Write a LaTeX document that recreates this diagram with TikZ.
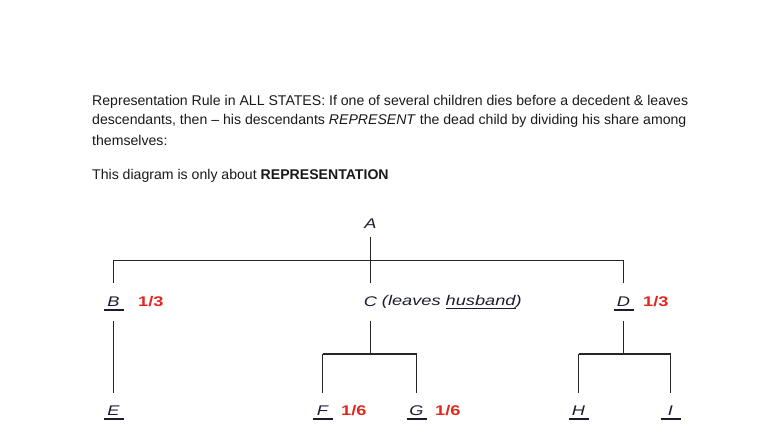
\documentclass[tikz,border=0pt]{standalone}
\usepackage{fontspec}
\setmainfont{Liberation Sans}
\newfontfamily\treefont[FakeStretch=1.3]{Liberation Sans}
\definecolor{sharered}{HTML}{E3261D}
\definecolor{heirink}{HTML}{1C1C30}
\newcommand\underword[1]{\setbox0\hbox{#1}\rlap{\smash{\rule[-3.8pt]{\wd0}{1.2pt}}}\box0}
\newcommand\heirmark[1]{\underword{\makebox[20pt]{#1}}}
\begin{document}
\begin{tikzpicture}[x=1pt,y=-1pt,
    every node/.style={inner sep=0pt},
    textline/.style={anchor=west,font=\fontsize{14.1}{17}\selectfont,text=black!90},
    heir/.style={font=\treefont\fontsize{14}{17}\selectfont\itshape,text=heirink,minimum height=36pt},
    share/.style={anchor=west,font=\treefont\fontsize{14}{17}\selectfont\bfseries,text=sharered},
    fork/.style={line width=2pt}]
  \useasboundingbox (0,0) rectangle (784,441);
  \draw
    (92,102) node[textline] (rule1){Representation Rule in ALL STATES: If one of several children dies before a decedent \& leaves}
    (92,121) node[textline] (rule2){descendants, then -- his descendants \textit{REPRESENT} the dead child by dividing his share among}
    (92,140) node[textline] (rule3){themselves:}
    (92,176) node[textline] (about){This diagram is only about \textbf{REPRESENTATION}};
  \draw
    (370.5,224) node[heir,minimum height=26pt] (A){A}
    (113.5,302) node[heir,minimum height=38pt] (B){\heirmark{B}}
    (370.5,302) node[heir,minimum height=38pt,label={[heir,anchor=west,xshift=4.5pt]east:(leaves \underword{husband})}] (C){C}
    (623.5,302) node[heir,minimum height=38pt] (D){\heirmark{D}}
    (113.5,411) node[heir] (E){\heirmark{E}}
    (322.5,411) node[heir] (F){\heirmark{F}}
    (416.5,411) node[heir] (G){\heirmark{G}}
    (578.5,411) node[heir] (H){\heirmark{H}}
    (670.5,411) node[heir] (I){\heirmark{I}};
  \draw
    (138,302) node[share] (Bshare){1/3}
    (643,302) node[share] (Dshare){1/3}
    (341,411) node[share] (Fshare){1/6}
    (435,411) node[share] (Gshare){1/6};
  \coordinate (top) at (370.5,260.5);
  \coordinate (cbar) at (370.5,354);
  \coordinate (dbar) at (623.5,354);
  \begin{scope}[black!85,line width=1pt]
    \draw (A.south) -- (A.south |- C.north);
    \draw (B.north) |- (top) -| (D.north);
    \draw (B.south) -- (E.north);
    \draw (C.south) -- (cbar);
    \draw (D.south) -- (dbar);
    \draw[fork] (F |- cbar) -- (G |- cbar);
    \draw[fork] (H |- dbar) -- (I |- dbar);
    \draw (F.north) -- (F |- cbar);
    \draw (G.north) -- (G |- cbar);
    \draw (H.north) -- (H |- dbar);
    \draw (I.north) -- (I |- dbar);
  \end{scope}
\end{tikzpicture}
\end{document}
